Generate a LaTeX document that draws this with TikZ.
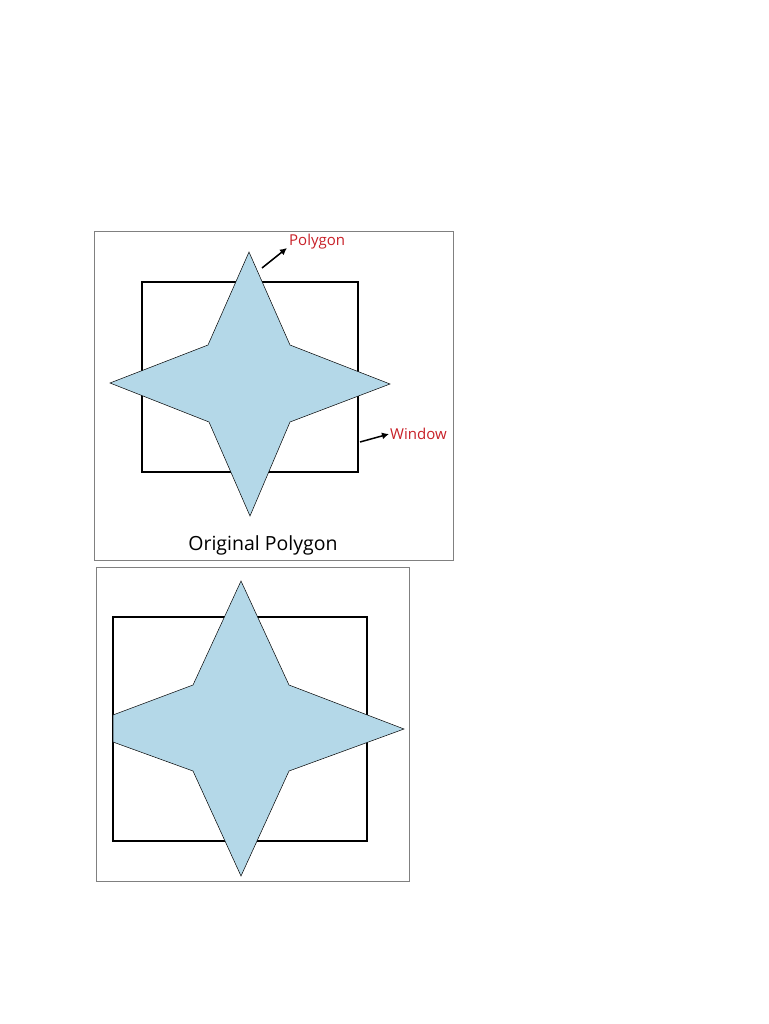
\documentclass[tikz,border=0pt]{standalone}
\usepackage{fontspec}
\setmainfont{Open Sans}
\usetikzlibrary{arrows.meta}
\definecolor{starblue}{RGB}{180,216,232}
\definecolor{labelred}{RGB}{200,32,40}

\begin{document}
\begin{tikzpicture}[x=1pt,y=-1pt]
\useasboundingbox[fill=white] (0,0) rectangle (768,1024);

% original polygon
\path[draw,gray,line width=0.8pt] (94,231) rectangle (453,560);
\path[draw,line width=1.1pt] (142,282) rectangle (358,472);
\path[draw,fill=starblue,line width=0.5pt] (249,252) -- (290,345) -- (390,384) -- (290,422)
  -- (250,516) -- (209,422) -- (110,383) -- (208,345) -- cycle;

\node[anchor=west,text=labelred,font=\fontsize{15}{18}\selectfont,inner sep=0pt] (poly) at (289,242) {Polygon};
\node[anchor=west,text=labelred,font=\fontsize{15}{18}\selectfont,inner sep=0pt] (win) at (390,434) {Window};
\node[font=\fontsize{19.5}{24}\selectfont,inner sep=0pt] (title) at (263,545) {Original Polygon};

\coordinate (ptail) at (262,268);
\coordinate (wtail) at (360,442);
\path[draw,line width=1.5pt,-{Latex[length=7pt,width=7pt]}] (ptail) -- ([xshift=-2pt,yshift=-6pt]poly.west);
\path[draw,line width=1.5pt,-{Latex[length=7pt,width=7pt]}] (wtail) -- ([xshift=-1pt]win.west);

% clipped polygon
\path[draw,gray,line width=0.8pt] (96,567) rectangle (409,881);
\path[draw,line width=1.1pt] (113,617) rectangle (367,841);
\path[draw,fill=starblue,line width=0.5pt] (241,581) -- (289,685) -- (404,729) -- (289,771)
  -- (241,876) -- (193,771) -- (113,742) -- (113,715) -- (193,685) -- cycle;
\end{tikzpicture}
\end{document}
